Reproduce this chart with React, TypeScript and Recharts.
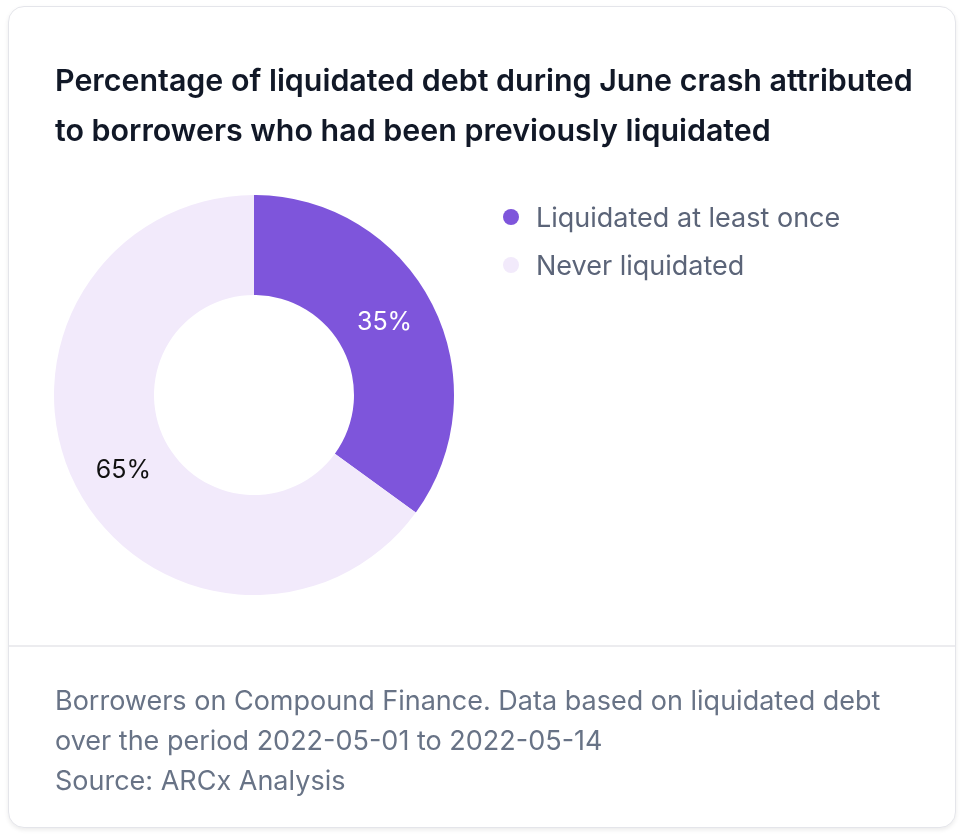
import React from 'react';
import { PieChart, Pie, Cell } from 'recharts';

const categories = ['Liquidated at least once', 'Never liquidated'];
const shares = [35, 65];
const sliceColors = ['#7E55DB', '#F2EAFB'];
const labelColors = ['#FFFFFF', '#111111'];

const data = categories.map((name, i) => ({ name, value: shares[i] }));

const RADIAN = Math.PI / 180;

// labels sit at the middle of the ring, nudged a little counter-clockwise like the original
const renderLabel = (props: any) => {
    const { cx, cy, midAngle, innerRadius, outerRadius, value, index } = props;
    const r = (innerRadius + outerRadius) / 2;
    const a = (midAngle + 2.5) * RADIAN;
    const x = cx + r * Math.cos(-a);
    const y = cy + r * Math.sin(-a);
    return (
        <text x={x} y={y} fill={labelColors[index]} textAnchor="middle" dominantBaseline="central"
            style={{ fontSize: 25, fontFamily: 'Inter, sans-serif' }}>
            {`${value}%`}
        </text>
    );
};

export default function App() {
    return (
        <div style={{
            position: 'fixed', left: 8, top: 6, width: 948, height: 822, boxSizing: 'border-box',
            border: '1px solid #E4E5EA', borderRadius: 16, background: '#fff',
            boxShadow: '0 2px 4px rgba(0,0,0,0.08)', fontFamily: 'Inter, sans-serif', overflow: 'hidden'
        }}>
            <div style={{ position: 'absolute', left: 46, top: 48, width: 880, fontSize: 30.4, fontWeight: 600, lineHeight: '50px', color: '#111827' }}>
                Percentage of liquidated debt during June crash attributed to borrowers who had been previously liquidated
            </div>
            <div style={{ position: 'absolute', left: 20, top: 168 }}>
                <PieChart width={440} height={420}>
                    <Pie data={data} dataKey="value" nameKey="name" cx={220} cy={215}
                        innerRadius={100} outerRadius={200} startAngle={90} endAngle={-270}
                        stroke="none" label={renderLabel} labelLine={false} isAnimationActive={false}>
                        {data.map((d, i) => <Cell key={d.name} fill={sliceColors[i]} />)}
                    </Pie>
                </PieChart>
            </div>
            <div style={{ position: 'absolute', left: 494, top: 186 }}>
                {categories.map((c, i) => (
                    <div key={c} style={{ display: 'flex', alignItems: 'center', height: 48 }}>
                        <span style={{ width: 16, height: 16, borderRadius: '50%', background: sliceColors[i], marginRight: 17, display: 'inline-block' }}></span>
                        <span style={{ fontSize: 27, color: '#5B6478' }}>{c}</span>
                    </div>
                ))}
            </div>
            <div style={{ position: 'absolute', left: 0, right: 0, top: 638, borderTop: '2px solid #ECECEF' }}></div>
            <div style={{ position: 'absolute', left: 46, top: 674, fontSize: 27, lineHeight: '40px', color: '#687386', width: 880 }}>
                Borrowers on Compound Finance. Data based on liquidated debt<br />
                over the period 2022-05-01 to 2022-05-14<br />
                Source: ARCx Analysis
            </div>
        </div>
    );
}
